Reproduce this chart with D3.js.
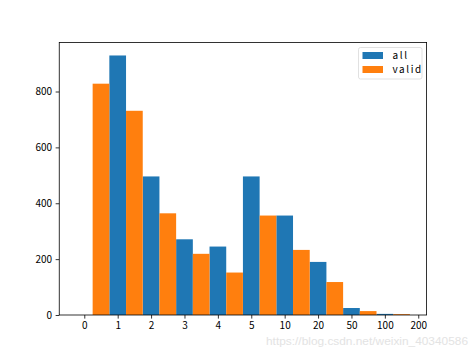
<!DOCTYPE html>
<html>
<head>
    <meta charset="utf-8">
    <title></title>
    <script src="https://d3js.org/d3.v7.min.js"></script>
    <style>
        html, body { margin: 0; padding: 0; background: white; }
        text { font-family: "Noto Sans CJK SC", "DejaVu Sans", sans-serif; }
    </style>
</head>
<body>
    <div id="chart"></div>
    <script>
        // Tick labels of the x axis (one per bin position)
        const tickLabels = ["0", "1", "2", "3", "4", "5", "10", "20", "50", "100", "200"];
        // Counts per bin
        const allCounts = [0, 929, 496, 271, 245, 496, 356, 190, 25, 4];
        const validCounts = [828, 731, 364, 219, 152, 356, 233, 118, 14, 3];
        const seriesNames = ["all", "valid"];
        const colors = { all: "#1f77b4", valid: "#ff7f0e" };

        const W = 474, H = 354;
        const plot = { left: 59.25, right: 426.6, top: 42.5, bottom: 315 };

        const svg = d3.select("#chart").append("svg")
            .attr("width", W).attr("height", H);

        svg.append("rect").attr("width", W).attr("height", H).attr("fill", "white");

        const x = d3.scaleLinear().domain([-0.75, 10.25]).range([plot.left, plot.right]);
        const yMax = d3.max(allCounts.concat(validCounts)) * 1.05;
        const y = d3.scaleLinear().domain([0, yMax]).range([plot.bottom, plot.top]);

        // bars: blue on the left half, orange on the right half of each bin
        const bars = [];
        allCounts.forEach((v, i) => bars.push({ s: "all", x0: i - 0.25, x1: i + 0.25, v }));
        validCounts.forEach((v, i) => bars.push({ s: "valid", x0: i + 0.25, x1: i + 0.75, v }));

        svg.append("g").selectAll("rect")
            .data(bars)
            .enter().append("rect")
            .attr("x", d => x(d.x0))
            .attr("width", d => x(d.x1) - x(d.x0))
            .attr("y", d => y(d.v))
            .attr("height", d => y(0) - y(d.v))
            .attr("fill", d => colors[d.s]);

        // axes
        const xAxis = svg.append("g")
            .attr("transform", `translate(0,${plot.bottom})`)
            .call(d3.axisBottom(x)
                .tickValues(d3.range(tickLabels.length))
                .tickFormat(i => tickLabels[i])
                .tickSize(3.6).tickPadding(3.6).tickSizeOuter(0));

        const yAxis = svg.append("g")
            .attr("transform", `translate(${plot.left},0)`)
            .call(d3.axisLeft(y).tickValues([0, 200, 400, 600, 800])
                .tickSize(3.6).tickPadding(3.6).tickSizeOuter(0));

        [xAxis, yAxis].forEach(a => {
            a.select(".domain").remove();
            a.selectAll("line").attr("stroke", "#000").attr("stroke-width", 0.8);
            a.selectAll("text").attr("fill", "#000")
                .style("font-size", "10px")
                .style("font-family", "'Noto Sans CJK SC', sans-serif");
        });

        // frame
        svg.append("rect")
            .attr("x", plot.left).attr("y", plot.top)
            .attr("width", plot.right - plot.left)
            .attr("height", plot.bottom - plot.top)
            .attr("fill", "none").attr("stroke", "#000").attr("stroke-width", 0.8);

        // legend
        const legend = svg.append("g");
        legend.append("rect")
            .attr("x", 358.5).attr("y", 47.5).attr("width", 63.5).attr("height", 31.5)
            .attr("rx", 2).attr("fill", "white").attr("fill-opacity", 0.8)
            .attr("stroke", "#d9d9d9").attr("stroke-width", 0.8);

        seriesNames.forEach((name, i) => {
            const row = legend.append("g").attr("transform", `translate(0,${55.5 + i * 14})`);
            row.append("rect")
                .attr("x", 362.5).attr("y", -3.5).attr("width", 20.5).attr("height", 7)
                .attr("fill", colors[name]);
            row.append("text")
                .attr("x", 392.5).attr("y", 0).attr("dy", "0.35em")
                .style("font-size", "10px")
                .attr("letter-spacing", "1.6px")
                .text(name);
        });

        // watermark
        svg.append("text")
            .attr("x", 266).attr("y", 345)
            .attr("textLength", 202).attr("lengthAdjust", "spacingAndGlyphs")
            .attr("fill", "#e3e3e3")
            .style("font-size", "11px")
            .style("font-family", "'Liberation Sans', Arial, sans-serif")
            .text("https://blog.csdn.net/weixin_40340586");
    </script>
</body>
</html>
